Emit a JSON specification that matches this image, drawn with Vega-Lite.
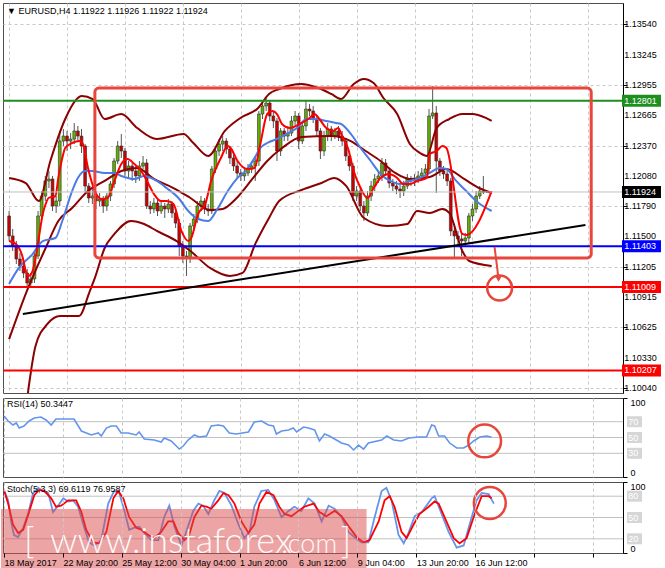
{
"$schema":"https://vega.github.io/schema/vega-lite/v6.json",
"background":"#ffffff",
"padding":{"left":0,"top":2,"right":0,"bottom":0},
"config":{
 "view":{"stroke":"#505050","strokeWidth":1},
 "concat":{"spacing":3},
 "axis":{"labelFont":"Liberation Sans","labelFontSize":9,"labelColor":"#000000","tickColor":"#000000","domainColor":"#000000","gridColor":"#c8c8c8","gridDash":[3,3],"gridWidth":1,"labelOverlap":false},
 "axisY":{"labelOverlap":false},
 "axisQuantitative":{"labelOverlap":false},
 "title":{"font":"Liberation Sans, DejaVu Sans","fontSize":9,"fontWeight":"normal","color":"#000000","anchor":"start","frame":"group"},
 "text":{"font":"Liberation Sans"}
},
"datasets":{
"c":[
{"i":0,"o":1.11693,"h":1.11741,"l":1.11453,"c":1.11501},
{"i":1,"o":1.11501,"h":1.11568,"l":1.11356,"c":1.11404},
{"i":2,"o":1.11404,"h":1.11453,"l":1.11231,"c":1.11279},
{"i":3,"o":1.11279,"h":1.11337,"l":1.11164,"c":1.11212},
{"i":4,"o":1.11212,"h":1.1126,"l":1.11096,"c":1.11144},
{"i":5,"o":1.11144,"h":1.11183,"l":1.11,"c":1.11048},
{"i":6,"o":1.11048,"h":1.11144,"l":1.1102,"c":1.11087},
{"i":7,"o":1.11087,"h":1.11356,"l":1.11048,"c":1.11308},
{"i":8,"o":1.11308,"h":1.11741,"l":1.11279,"c":1.11693},
{"i":9,"o":1.11693,"h":1.11933,"l":1.11645,"c":1.11885},
{"i":10,"o":1.11885,"h":1.12078,"l":1.11837,"c":1.1203},
{"i":11,"o":1.1203,"h":1.12126,"l":1.11962,"c":1.12049},
{"i":12,"o":1.12049,"h":1.12078,"l":1.11741,"c":1.11789},
{"i":13,"o":1.11789,"h":1.11885,"l":1.11722,"c":1.11837},
{"i":14,"o":1.11837,"h":1.12511,"l":1.11789,"c":1.12414},
{"i":15,"o":1.12414,"h":1.1253,"l":1.12366,"c":1.12462},
{"i":16,"o":1.12462,"h":1.12511,"l":1.12318,"c":1.12414},
{"i":17,"o":1.12414,"h":1.12491,"l":1.12337,"c":1.12433},
{"i":18,"o":1.12433,"h":1.12587,"l":1.12385,"c":1.12511},
{"i":19,"o":1.12511,"h":1.12559,"l":1.12414,"c":1.12462},
{"i":20,"o":1.12462,"h":1.1253,"l":1.12299,"c":1.12366},
{"i":21,"o":1.12366,"h":1.12385,"l":1.11904,"c":1.11981},
{"i":22,"o":1.11981,"h":1.1201,"l":1.11818,"c":1.11866},
{"i":23,"o":1.11866,"h":1.11952,"l":1.11808,"c":1.11885},
{"i":24,"o":1.11885,"h":1.11933,"l":1.1176,"c":1.11837},
{"i":25,"o":1.11837,"h":1.11914,"l":1.11789,"c":1.11856},
{"i":26,"o":1.11856,"h":1.11885,"l":1.11722,"c":1.11789},
{"i":27,"o":1.11789,"h":1.11914,"l":1.11741,"c":1.11885},
{"i":28,"o":1.11885,"h":1.1203,"l":1.11837,"c":1.12001},
{"i":29,"o":1.12001,"h":1.12251,"l":1.11962,"c":1.12222},
{"i":30,"o":1.12222,"h":1.12414,"l":1.12193,"c":1.12366},
{"i":31,"o":1.12366,"h":1.12482,"l":1.12251,"c":1.12318},
{"i":32,"o":1.12318,"h":1.12347,"l":1.12078,"c":1.12126},
{"i":33,"o":1.12126,"h":1.12222,"l":1.12058,"c":1.12174},
{"i":34,"o":1.12174,"h":1.12203,"l":1.1203,"c":1.12126},
{"i":35,"o":1.12126,"h":1.12174,"l":1.1201,"c":1.12078},
{"i":36,"o":1.12078,"h":1.12222,"l":1.1203,"c":1.12174},
{"i":37,"o":1.12174,"h":1.1227,"l":1.12145,"c":1.12203},
{"i":38,"o":1.12203,"h":1.12241,"l":1.1176,"c":1.11789},
{"i":39,"o":1.11789,"h":1.11837,"l":1.11712,"c":1.1176},
{"i":40,"o":1.1176,"h":1.11866,"l":1.11722,"c":1.11818},
{"i":41,"o":1.11818,"h":1.11856,"l":1.11693,"c":1.11741},
{"i":42,"o":1.11741,"h":1.11837,"l":1.11712,"c":1.11789},
{"i":43,"o":1.11789,"h":1.11818,"l":1.11674,"c":1.1176},
{"i":44,"o":1.1176,"h":1.11856,"l":1.11722,"c":1.11808},
{"i":45,"o":1.11808,"h":1.11837,"l":1.11674,"c":1.11722},
{"i":46,"o":1.11722,"h":1.1177,"l":1.11577,"c":1.11625},
{"i":47,"o":1.11625,"h":1.11664,"l":1.11308,"c":1.11404},
{"i":48,"o":1.11404,"h":1.11453,"l":1.11241,"c":1.11308},
{"i":49,"o":1.11308,"h":1.11356,"l":1.11116,"c":1.11289},
{"i":50,"o":1.11289,"h":1.11625,"l":1.11241,"c":1.11597},
{"i":51,"o":1.11597,"h":1.11712,"l":1.11549,"c":1.11664},
{"i":52,"o":1.11664,"h":1.11837,"l":1.11625,"c":1.11789},
{"i":53,"o":1.11789,"h":1.11885,"l":1.11741,"c":1.11837},
{"i":54,"o":1.11837,"h":1.11866,"l":1.11712,"c":1.1176},
{"i":55,"o":1.1176,"h":1.11808,"l":1.11693,"c":1.11741},
{"i":56,"o":1.11741,"h":1.12174,"l":1.11712,"c":1.12145},
{"i":57,"o":1.12145,"h":1.12366,"l":1.12106,"c":1.12318},
{"i":58,"o":1.12318,"h":1.12433,"l":1.1227,"c":1.12385},
{"i":59,"o":1.12385,"h":1.12462,"l":1.12318,"c":1.12414},
{"i":60,"o":1.12414,"h":1.12443,"l":1.12289,"c":1.12337},
{"i":61,"o":1.12337,"h":1.12366,"l":1.12193,"c":1.12251},
{"i":62,"o":1.12251,"h":1.12289,"l":1.12126,"c":1.12174},
{"i":63,"o":1.12174,"h":1.12222,"l":1.12058,"c":1.12106},
{"i":64,"o":1.12106,"h":1.12145,"l":1.1203,"c":1.12078},
{"i":65,"o":1.12078,"h":1.12155,"l":1.1203,"c":1.12106},
{"i":66,"o":1.12106,"h":1.12193,"l":1.12078,"c":1.12145},
{"i":67,"o":1.12145,"h":1.12222,"l":1.12106,"c":1.12174},
{"i":68,"o":1.12174,"h":1.1227,"l":1.1203,"c":1.12222},
{"i":69,"o":1.12222,"h":1.12703,"l":1.12174,"c":1.12674},
{"i":70,"o":1.12674,"h":1.12799,"l":1.12626,"c":1.12751},
{"i":71,"o":1.12751,"h":1.12828,"l":1.12703,"c":1.1278},
{"i":72,"o":1.1278,"h":1.12799,"l":1.12607,"c":1.12655},
{"i":73,"o":1.12655,"h":1.12703,"l":1.12539,"c":1.12607},
{"i":74,"o":1.12607,"h":1.12636,"l":1.12222,"c":1.12318},
{"i":75,"o":1.12318,"h":1.12539,"l":1.1227,"c":1.12511},
{"i":76,"o":1.12511,"h":1.12539,"l":1.12414,"c":1.12462},
{"i":77,"o":1.12462,"h":1.12559,"l":1.12414,"c":1.12491},
{"i":78,"o":1.12491,"h":1.12655,"l":1.12462,"c":1.12607},
{"i":79,"o":1.12607,"h":1.12703,"l":1.12559,"c":1.12655},
{"i":80,"o":1.12655,"h":1.12684,"l":1.12337,"c":1.12414},
{"i":81,"o":1.12414,"h":1.12587,"l":1.12385,"c":1.12559},
{"i":82,"o":1.12559,"h":1.12799,"l":1.12511,"c":1.12722},
{"i":83,"o":1.12722,"h":1.1277,"l":1.12655,"c":1.12703},
{"i":84,"o":1.12703,"h":1.12751,"l":1.12587,"c":1.12626},
{"i":85,"o":1.12626,"h":1.12655,"l":1.12462,"c":1.12511},
{"i":86,"o":1.12511,"h":1.12539,"l":1.12241,"c":1.12318},
{"i":87,"o":1.12318,"h":1.12511,"l":1.1227,"c":1.12462},
{"i":88,"o":1.12462,"h":1.12587,"l":1.12414,"c":1.1253},
{"i":89,"o":1.1253,"h":1.12559,"l":1.12414,"c":1.12462},
{"i":90,"o":1.12462,"h":1.12539,"l":1.12433,"c":1.12511},
{"i":91,"o":1.12511,"h":1.12559,"l":1.12414,"c":1.12462},
{"i":92,"o":1.12462,"h":1.12511,"l":1.12366,"c":1.12414},
{"i":93,"o":1.12414,"h":1.12443,"l":1.12222,"c":1.1227},
{"i":94,"o":1.1227,"h":1.12318,"l":1.12126,"c":1.12174},
{"i":95,"o":1.12174,"h":1.12203,"l":1.11837,"c":1.11885},
{"i":96,"o":1.11885,"h":1.11981,"l":1.11837,"c":1.11933},
{"i":97,"o":1.11933,"h":1.11962,"l":1.11741,"c":1.11789},
{"i":98,"o":1.11789,"h":1.11837,"l":1.11645,"c":1.11722},
{"i":99,"o":1.11722,"h":1.11933,"l":1.11693,"c":1.11885},
{"i":100,"o":1.11885,"h":1.1203,"l":1.11837,"c":1.11981},
{"i":101,"o":1.11981,"h":1.12097,"l":1.11933,"c":1.12049},
{"i":102,"o":1.12049,"h":1.12126,"l":1.1201,"c":1.12078},
{"i":103,"o":1.12078,"h":1.12251,"l":1.1203,"c":1.12203},
{"i":104,"o":1.12203,"h":1.12241,"l":1.12078,"c":1.12126},
{"i":105,"o":1.12126,"h":1.12155,"l":1.11962,"c":1.1201},
{"i":106,"o":1.1201,"h":1.12049,"l":1.11933,"c":1.11981},
{"i":107,"o":1.11981,"h":1.1203,"l":1.11904,"c":1.11952},
{"i":108,"o":1.11952,"h":1.12001,"l":1.11866,"c":1.11933},
{"i":109,"o":1.11933,"h":1.1203,"l":1.11885,"c":1.11981},
{"i":110,"o":1.11981,"h":1.12097,"l":1.11952,"c":1.12049},
{"i":111,"o":1.12049,"h":1.12078,"l":1.11981,"c":1.1203},
{"i":112,"o":1.1203,"h":1.12097,"l":1.11981,"c":1.12049},
{"i":113,"o":1.12049,"h":1.12126,"l":1.1201,"c":1.12078},
{"i":114,"o":1.12078,"h":1.12155,"l":1.1203,"c":1.12106},
{"i":115,"o":1.12106,"h":1.12193,"l":1.12058,"c":1.12145},
{"i":116,"o":1.12145,"h":1.12722,"l":1.12106,"c":1.12655},
{"i":117,"o":1.12655,"h":1.12943,"l":1.12626,"c":1.12684},
{"i":118,"o":1.12684,"h":1.12751,"l":1.11914,"c":1.12222},
{"i":119,"o":1.12222,"h":1.12251,"l":1.12078,"c":1.12126},
{"i":120,"o":1.12126,"h":1.12174,"l":1.12049,"c":1.12097},
{"i":121,"o":1.12097,"h":1.12145,"l":1.11981,"c":1.1203},
{"i":122,"o":1.1203,"h":1.12058,"l":1.11501,"c":1.11549},
{"i":123,"o":1.11549,"h":1.11597,"l":1.11289,"c":1.11501},
{"i":124,"o":1.11501,"h":1.11549,"l":1.11404,"c":1.11472},
{"i":125,"o":1.11472,"h":1.1152,"l":1.11308,"c":1.11453},
{"i":126,"o":1.11453,"h":1.11529,"l":1.11404,"c":1.11481},
{"i":127,"o":1.11481,"h":1.11722,"l":1.11433,"c":1.11693},
{"i":128,"o":1.11693,"h":1.11808,"l":1.11645,"c":1.1176},
{"i":129,"o":1.1176,"h":1.11933,"l":1.11722,"c":1.11885},
{"i":130,"o":1.11885,"h":1.11981,"l":1.11856,"c":1.11933},
{"i":131,"o":1.11933,"h":1.12078,"l":1.11904,"c":1.11922},
{"i":132,"o":1.11922,"h":1.11926,"l":1.11922,"c":1.11924}
],
"ln":[
{"s":"u","i":0,"p":1.12059},{"s":"u","i":4.6,"p":1.1201},{"s":"u","i":8.2,"p":1.11837},{"s":"u","i":11.4,"p":1.12222},{"s":"u","i":15.5,"p":1.12626},{"s":"u","i":18.2,"p":1.12799},{"s":"u","i":20.1,"p":1.12847},{"s":"u","i":23.1,"p":1.12818},{"s":"u","i":26.4,"p":1.12626},{"s":"u","i":31,"p":1.12674},{"s":"u","i":35.4,"p":1.12539},{"s":"u","i":40.8,"p":1.12434},{"s":"u","i":48.2,"p":1.12482},{"s":"u","i":50.9,"p":1.12395},{"s":"u","i":55,"p":1.1227},{"s":"u","i":59.6,"p":1.12511},{"s":"u","i":63.9,"p":1.12636},{"s":"u","i":68.8,"p":1.12732},{"s":"u","i":71.8,"p":1.12867},{"s":"u","i":74.6,"p":1.12915},{"s":"u","i":80.8,"p":1.12963},{"s":"u","i":85.4,"p":1.12924},{"s":"u","i":89,"p":1.12867},{"s":"u","i":91.7,"p":1.12818},{"s":"u","i":95.2,"p":1.12963},{"s":"u","i":98,"p":1.13011},{"s":"u","i":100.7,"p":1.12972},{"s":"u","i":103.4,"p":1.12828},{"s":"u","i":107.2,"p":1.12674},{"s":"u","i":110.7,"p":1.12386},{"s":"u","i":113.5,"p":1.12299},{"s":"u","i":115.4,"p":1.1227},{"s":"u","i":118.1,"p":1.12539},{"s":"u","i":121.6,"p":1.12626},{"s":"u","i":125.2,"p":1.12674},{"s":"u","i":127.9,"p":1.12674},{"s":"u","i":131.7,"p":1.12636},{"s":"u","i":133.3,"p":1.12607},
{"s":"m","i":0,"p":1.10509},{"s":"m","i":4.9,"p":1.10971},{"s":"m","i":10.1,"p":1.11385},{"s":"m","i":13.6,"p":1.11645},{"s":"m","i":17.4,"p":1.1177},{"s":"m","i":21.8,"p":1.11933},{"s":"m","i":26.4,"p":1.1203},{"s":"m","i":31,"p":1.12126},{"s":"m","i":35.4,"p":1.12155},{"s":"m","i":40,"p":1.12049},{"s":"m","i":45.4,"p":1.11962},{"s":"m","i":50.1,"p":1.11866},{"s":"m","i":55.5,"p":1.1175},{"s":"m","i":59,"p":1.1176},{"s":"m","i":62.6,"p":1.11856},{"s":"m","i":67.2,"p":1.12049},{"s":"m","i":71.3,"p":1.12222},{"s":"m","i":75.4,"p":1.12347},{"s":"m","i":80.8,"p":1.12453},{"s":"m","i":89,"p":1.12463},{"s":"m","i":94.4,"p":1.12414},{"s":"m","i":98.5,"p":1.12318},{"s":"m","i":102.6,"p":1.12222},{"s":"m","i":106.7,"p":1.12107},{"s":"m","i":110.7,"p":1.12049},{"s":"m","i":116.2,"p":1.12068},{"s":"m","i":120.8,"p":1.12145},{"s":"m","i":125.7,"p":1.12049},{"s":"m","i":129.8,"p":1.11962},{"s":"m","i":133.3,"p":1.11914},
{"s":"l","i":0,"p":1.08922},{"s":"l","i":3.3,"p":1.09432},{"s":"l","i":5.2,"p":1.0999},{"s":"l","i":7.3,"p":1.10442},{"s":"l","i":10.6,"p":1.10654},{"s":"l","i":14.1,"p":1.10731},{"s":"l","i":19.3,"p":1.10731},{"s":"l","i":22.3,"p":1.10971},{"s":"l","i":23.7,"p":1.11097},{"s":"l","i":26.4,"p":1.11385},{"s":"l","i":29.1,"p":1.1152},{"s":"l","i":33.7,"p":1.11645},{"s":"l","i":37.3,"p":1.11616},{"s":"l","i":40.8,"p":1.11549},{"s":"l","i":46.3,"p":1.11452},{"s":"l","i":50.1,"p":1.11356},{"s":"l","i":55.5,"p":1.11193},{"s":"l","i":61,"p":1.11116},{"s":"l","i":64.5,"p":1.11145},{"s":"l","i":68,"p":1.11424},{"s":"l","i":71.8,"p":1.11674},{"s":"l","i":74.6,"p":1.11837},{"s":"l","i":80.8,"p":1.11943},{"s":"l","i":86.3,"p":1.1201},{"s":"l","i":89.8,"p":1.12059},{"s":"l","i":93.1,"p":1.11982},{"s":"l","i":98,"p":1.11674},{"s":"l","i":104.5,"p":1.11597},{"s":"l","i":110,"p":1.11616},{"s":"l","i":112.7,"p":1.11741},{"s":"l","i":116.2,"p":1.11722},{"s":"l","i":119.7,"p":1.1176},{"s":"l","i":121.6,"p":1.11722},{"s":"l","i":125.2,"p":1.11356},{"s":"l","i":127.1,"p":1.1126},{"s":"l","i":133.3,"p":1.11212},
{"s":"fast","i":0,"p":1.11452},{"s":"fast","i":1.9,"p":1.11424},{"s":"fast","i":3.8,"p":1.11289},{"s":"fast","i":4.6,"p":1.11164},{"s":"fast","i":5.4,"p":1.11116},{"s":"fast","i":6.5,"p":1.11164},{"s":"fast","i":7.3,"p":1.11289},{"s":"fast","i":8.2,"p":1.11481},{"s":"fast","i":9.3,"p":1.11712},{"s":"fast","i":10.1,"p":1.11808},{"s":"fast","i":10.9,"p":1.11866},{"s":"fast","i":12.8,"p":1.11885},{"s":"fast","i":13.6,"p":1.12059},{"s":"fast","i":14.7,"p":1.12251},{"s":"fast","i":15.5,"p":1.12347},{"s":"fast","i":17.4,"p":1.12395},{"s":"fast","i":19.6,"p":1.12414},{"s":"fast","i":20.4,"p":1.12386},{"s":"fast","i":21.8,"p":1.12155},{"s":"fast","i":23.7,"p":1.11933},{"s":"fast","i":25.6,"p":1.11856},{"s":"fast","i":27.2,"p":1.11866},{"s":"fast","i":29.1,"p":1.1203},{"s":"fast","i":31,"p":1.12193},{"s":"fast","i":32.7,"p":1.12241},{"s":"fast","i":34.6,"p":1.12193},{"s":"fast","i":36.5,"p":1.12126},{"s":"fast","i":38.1,"p":1.1203},{"s":"fast","i":40,"p":1.11905},{"s":"fast","i":41.9,"p":1.11837},{"s":"fast","i":43.5,"p":1.11837},{"s":"fast","i":45.4,"p":1.11808},{"s":"fast","i":47.6,"p":1.11549},{"s":"fast","i":49.5,"p":1.11452},{"s":"fast","i":50.3,"p":1.11481},{"s":"fast","i":52.2,"p":1.11712},{"s":"fast","i":54.2,"p":1.11808},{"s":"fast","i":55.8,"p":1.1203},{"s":"fast","i":58.5,"p":1.12251},{"s":"fast","i":60.4,"p":1.12366},{"s":"fast","i":61.2,"p":1.12347},{"s":"fast","i":63.1,"p":1.12222},{"s":"fast","i":65.8,"p":1.12145},{"s":"fast","i":67.8,"p":1.12155},{"s":"fast","i":69.4,"p":1.12386},{"s":"fast","i":71.3,"p":1.12674},{"s":"fast","i":72.7,"p":1.12703},{"s":"fast","i":74,"p":1.12674},{"s":"fast","i":75.4,"p":1.12578},{"s":"fast","i":77.6,"p":1.12539},{"s":"fast","i":80.3,"p":1.12578},{"s":"fast","i":83,"p":1.12636},{"s":"fast","i":84.4,"p":1.12674},{"s":"fast","i":85.7,"p":1.12626},{"s":"fast","i":87.6,"p":1.12539},{"s":"fast","i":89.5,"p":1.12511},{"s":"fast","i":90.9,"p":1.12539},{"s":"fast","i":92.2,"p":1.12443},{"s":"fast","i":93.6,"p":1.12347},{"s":"fast","i":95.2,"p":1.12126},{"s":"fast","i":97.1,"p":1.11962},{"s":"fast","i":99,"p":1.11866},{"s":"fast","i":100.7,"p":1.11962},{"s":"fast","i":102.6,"p":1.12059},{"s":"fast","i":104.8,"p":1.12097},{"s":"fast","i":107.2,"p":1.12059},{"s":"fast","i":108.8,"p":1.12001},{"s":"fast","i":110.7,"p":1.12001},{"s":"fast","i":112.7,"p":1.1203},{"s":"fast","i":115.4,"p":1.12059},{"s":"fast","i":116.2,"p":1.1229},{"s":"fast","i":118.1,"p":1.12318},{"s":"fast","i":119.7,"p":1.12366},{"s":"fast","i":120.8,"p":1.12347},{"s":"fast","i":125.2,"p":1.1152},{"s":"fast","i":126.3,"p":1.1151},{"s":"fast","i":133.3,"p":1.11933},
{"s":"slow","i":0,"p":1.11039},{"s":"slow","i":2.7,"p":1.11193},{"s":"slow","i":6.5,"p":1.11327},{"s":"slow","i":9.3,"p":1.11452},{"s":"slow","i":12.8,"p":1.11481},{"s":"slow","i":14.7,"p":1.11645},{"s":"slow","i":17.4,"p":1.11933},{"s":"slow","i":19,"p":1.12059},{"s":"slow","i":21,"p":1.12126},{"s":"slow","i":22.9,"p":1.12126},{"s":"slow","i":26.4,"p":1.12107},{"s":"slow","i":29.1,"p":1.12107},{"s":"slow","i":31,"p":1.12078},{"s":"slow","i":34.6,"p":1.12049},{"s":"slow","i":37.3,"p":1.12078},{"s":"slow","i":40.8,"p":1.1203},{"s":"slow","i":43.5,"p":1.11962},{"s":"slow","i":46.8,"p":1.11866},{"s":"slow","i":49.5,"p":1.11741},{"s":"slow","i":52.2,"p":1.11664},{"s":"slow","i":55,"p":1.11645},{"s":"slow","i":57.7,"p":1.1177},{"s":"slow","i":60.4,"p":1.11933},{"s":"slow","i":63.1,"p":1.12059},{"s":"slow","i":65.8,"p":1.12145},{"s":"slow","i":67.8,"p":1.12251},{"s":"slow","i":69.4,"p":1.12347},{"s":"slow","i":71.3,"p":1.12395},{"s":"slow","i":74,"p":1.12434},{"s":"slow","i":76.7,"p":1.12482},{"s":"slow","i":79.5,"p":1.12539},{"s":"slow","i":82.2,"p":1.12626},{"s":"slow","i":84.9,"p":1.12626},{"s":"slow","i":87.6,"p":1.12607},{"s":"slow","i":90.3,"p":1.12588},{"s":"slow","i":91.7,"p":1.12578},{"s":"slow","i":94.4,"p":1.12482},{"s":"slow","i":97.1,"p":1.12347},{"s":"slow","i":99.9,"p":1.12222},{"s":"slow","i":102.6,"p":1.12097},{"s":"slow","i":105.3,"p":1.1203},{"s":"slow","i":108,"p":1.12001},{"s":"slow","i":110.7,"p":1.1203},{"s":"slow","i":113.5,"p":1.12059},{"s":"slow","i":116.2,"p":1.12107},{"s":"slow","i":118.9,"p":1.12155},{"s":"slow","i":120.8,"p":1.12145},{"s":"slow","i":123.5,"p":1.1203},{"s":"slow","i":126.3,"p":1.11933},{"s":"slow","i":129,"p":1.11837},{"s":"slow","i":131.7,"p":1.1177},{"s":"slow","i":133.3,"p":1.11741}
],
"lv":[{"n":"g","p":1.12801,"t":"1.12801"},{"n":"cur","p":1.11924,"t":"1.11924"},{"n":"b","p":1.11403,"t":"1.11403"},{"n":"r1","p":1.11009,"t":"1.11009"},{"n":"r2","p":1.10207,"t":"1.10207"}],
"ticks":[{"p":1.1354,"t":"1.13540"},{"p":1.13245,"t":"1.13245"},{"p":1.12955,"t":"1.12955"},{"p":1.12665,"t":"1.12665"},{"p":1.1237,"t":"1.12370"},{"p":1.1208,"t":"1.12080"},{"p":1.1179,"t":"1.11790"},{"p":1.115,"t":"1.11500"},{"p":1.11205,"t":"1.11205"},{"p":1.10915,"t":"1.10915"},{"p":1.10625,"t":"1.10625"},{"p":1.1033,"t":"1.10330"},{"p":1.1004,"t":"1.10040"}],
"box":[{"i1":23.7,"i2":160.8,"p1":1.12924,"p2":1.11289}],
"trend":[{"i":3.8,"p":1.1075},{"i":159.2,"p":1.11607}],
"arrow":[{"k":"start","i":134.1,"p":1.11395},{"k":"tip","i":135.2,"p":1.11087}],
"rsi":[
{"i":0,"v":77.2},{"i":1.1,"v":70.9},{"i":2.4,"v":65.8},{"i":3.3,"v":68.4},{"i":4.1,"v":62},{"i":5.4,"v":64.6},{"i":6.8,"v":70.9},{"i":8.2,"v":74.7},{"i":10,"v":75.9},{"i":11.4,"v":72.2},{"i":12.8,"v":65.8},{"i":14.1,"v":73.4},{"i":19,"v":73.4},{"i":21,"v":58.2},{"i":23.7,"v":53.2},{"i":25.6,"v":55.7},{"i":26.4,"v":51.9},{"i":27.8,"v":62},{"i":29.1,"v":64.6},{"i":30.5,"v":64.6},{"i":31.8,"v":55.7},{"i":33.7,"v":55.7},{"i":35.9,"v":53.2},{"i":36.7,"v":57},{"i":38.1,"v":48.1},{"i":40.8,"v":46.8},{"i":42.7,"v":44.3},{"i":43.5,"v":49.4},{"i":45.4,"v":45.6},{"i":46.8,"v":39.2},{"i":47.6,"v":35.4},{"i":48.7,"v":39.2},{"i":50,"v":46.8},{"i":51.7,"v":53.2},{"i":53,"v":50.6},{"i":55,"v":51.9},{"i":56.3,"v":64.6},{"i":58.2,"v":65.8},{"i":59.6,"v":64.6},{"i":61.2,"v":55.7},{"i":63.1,"v":54.4},{"i":66.4,"v":57},{"i":68,"v":69.6},{"i":70,"v":70.9},{"i":71.8,"v":65.8},{"i":73.2,"v":64.6},{"i":74,"v":54.4},{"i":75.4,"v":58.2},{"i":77.3,"v":59.5},{"i":78.6,"v":62},{"i":79.5,"v":57},{"i":81.4,"v":63.3},{"i":82.7,"v":62},{"i":84.4,"v":59.5},{"i":85.7,"v":45.6},{"i":87.1,"v":54.4},{"i":88.4,"v":51.9},{"i":91.7,"v":43},{"i":93.6,"v":40.5},{"i":95,"v":34.2},{"i":96.3,"v":40.5},{"i":97.7,"v":35.4},{"i":99,"v":43},{"i":102.6,"v":46.8},{"i":104,"v":51.9},{"i":105.9,"v":46.8},{"i":108,"v":45.6},{"i":110,"v":49.4},{"i":112.7,"v":50.6},{"i":114.8,"v":50.6},{"i":116.2,"v":65.8},{"i":117,"v":64.6},{"i":118.1,"v":51.9},{"i":119.7,"v":51.9},{"i":121.1,"v":43},{"i":123,"v":36.7},{"i":124.9,"v":36.7},{"i":126.3,"v":40.5},{"i":127.6,"v":45.6},{"i":129.3,"v":50.6},{"i":131.2,"v":51.9},{"i":132.5,"v":50.3}
],
"st":[
{"s":"K","i":0,"v":88.8},{"s":"K","i":1.1,"v":74.1},{"s":"K","i":1.9,"v":44.5},{"s":"K","i":2.7,"v":25.3},{"s":"K","i":3.8,"v":22.4},{"s":"K","i":5.2,"v":35.7},{"s":"K","i":6.5,"v":54.9},{"s":"K","i":7.9,"v":84.4},{"s":"K","i":9.3,"v":91.8},{"s":"K","i":10.6,"v":87.4},{"s":"K","i":12,"v":84.4},{"s":"K","i":13.3,"v":57.8},{"s":"K","i":14.7,"v":66.7},{"s":"K","i":16.1,"v":77},{"s":"K","i":17.4,"v":72.6},{"s":"K","i":18.8,"v":74.1},{"s":"K","i":20.1,"v":65.2},{"s":"K","i":21.8,"v":35.7},{"s":"K","i":23.1,"v":15},{"s":"K","i":24.5,"v":10.6},{"s":"K","i":26.4,"v":18},{"s":"K","i":28.3,"v":69.6},{"s":"K","i":29.9,"v":87.4},{"s":"K","i":31.3,"v":84.4},{"s":"K","i":32.7,"v":59.3},{"s":"K","i":34,"v":32.7},{"s":"K","i":35.4,"v":35.7},{"s":"K","i":36.7,"v":37.1},{"s":"K","i":38.1,"v":28.3},{"s":"K","i":40,"v":18},{"s":"K","i":41.9,"v":18},{"s":"K","i":43.5,"v":50.4},{"s":"K","i":44.9,"v":66.7},{"s":"K","i":46.3,"v":37.1},{"s":"K","i":48.2,"v":10.6},{"s":"K","i":49.5,"v":29.8},{"s":"K","i":51.4,"v":59.3},{"s":"K","i":52.8,"v":69.6},{"s":"K","i":54.1,"v":66.7},{"s":"K","i":55.5,"v":54.9},{"s":"K","i":57.1,"v":74.1},{"s":"K","i":58.5,"v":87.4},{"s":"K","i":59.9,"v":84.4},{"s":"K","i":61.8,"v":66.7},{"s":"K","i":63.7,"v":40.1},{"s":"K","i":65.3,"v":20.9},{"s":"K","i":66.7,"v":29.8},{"s":"K","i":68,"v":65.2},{"s":"K","i":69.9,"v":87.4},{"s":"K","i":71.8,"v":88.9},{"s":"K","i":73.5,"v":74.1},{"s":"K","i":75.4,"v":50.4},{"s":"K","i":77.3,"v":59.3},{"s":"K","i":78.9,"v":65.2},{"s":"K","i":80.8,"v":59.3},{"s":"K","i":82.7,"v":77},{"s":"K","i":84.4,"v":69.6},{"s":"K","i":86.3,"v":44.5},{"s":"K","i":88.2,"v":66.7},{"s":"K","i":89.8,"v":62.3},{"s":"K","i":91.7,"v":50.4},{"s":"K","i":93.6,"v":29.8},{"s":"K","i":95.2,"v":22.4},{"s":"K","i":97.1,"v":15},{"s":"K","i":99,"v":15},{"s":"K","i":100.7,"v":50.4},{"s":"K","i":102.6,"v":87.4},{"s":"K","i":103.9,"v":91.8},{"s":"K","i":105.3,"v":74.1},{"s":"K","i":107.2,"v":25.3},{"s":"K","i":108.6,"v":13.6},{"s":"K","i":109.9,"v":28.3},{"s":"K","i":111.6,"v":51.9},{"s":"K","i":113.5,"v":57.8},{"s":"K","i":114.8,"v":66.7},{"s":"K","i":116.2,"v":77},{"s":"K","i":117,"v":80},{"s":"K","i":118.9,"v":54.9},{"s":"K","i":120.8,"v":29.8},{"s":"K","i":123,"v":7.6},{"s":"K","i":124.9,"v":10.6},{"s":"K","i":126.5,"v":40.1},{"s":"K","i":128.4,"v":74.1},{"s":"K","i":129.8,"v":84.4},{"s":"K","i":131.7,"v":82.9},{"s":"K","i":133.1,"v":69.6},
{"s":"D","i":0,"v":87.4},{"s":"D","i":1.1,"v":69.6},{"s":"D","i":2.4,"v":40.1},{"s":"D","i":3.8,"v":28.3},{"s":"D","i":5.2,"v":32.7},{"s":"D","i":6.8,"v":57.8},{"s":"D","i":8.2,"v":81.5},{"s":"D","i":9.5,"v":88.9},{"s":"D","i":10.9,"v":87.4},{"s":"D","i":12.8,"v":77},{"s":"D","i":14.1,"v":65.2},{"s":"D","i":15.5,"v":66.7},{"s":"D","i":17.4,"v":74.1},{"s":"D","i":19.6,"v":74.1},{"s":"D","i":21,"v":57.8},{"s":"D","i":22.3,"v":32.7},{"s":"D","i":24.2,"v":15},{"s":"D","i":25.9,"v":13.6},{"s":"D","i":27.8,"v":29.8},{"s":"D","i":29.7,"v":77},{"s":"D","i":31,"v":87.4},{"s":"D","i":32.4,"v":77},{"s":"D","i":34,"v":50.4},{"s":"D","i":35.9,"v":35.7},{"s":"D","i":37.3,"v":32.7},{"s":"D","i":39.2,"v":25.3},{"s":"D","i":40.8,"v":20.9},{"s":"D","i":42.7,"v":29.8},{"s":"D","i":44.6,"v":44.5},{"s":"D","i":46,"v":44.5},{"s":"D","i":47.3,"v":28.3},{"s":"D","i":49,"v":18},{"s":"D","i":50.3,"v":25.3},{"s":"D","i":51.7,"v":50.4},{"s":"D","i":53.6,"v":66.7},{"s":"D","i":55,"v":65.2},{"s":"D","i":56.3,"v":62.3},{"s":"D","i":58.2,"v":74.1},{"s":"D","i":59.6,"v":84.4},{"s":"D","i":61,"v":81.5},{"s":"D","i":62.6,"v":69.6},{"s":"D","i":64.5,"v":44.5},{"s":"D","i":66.4,"v":28.3},{"s":"D","i":68,"v":40.1},{"s":"D","i":69.4,"v":69.6},{"s":"D","i":71.3,"v":85.9},{"s":"D","i":73.2,"v":81.5},{"s":"D","i":74.8,"v":65.2},{"s":"D","i":76.2,"v":55},{"s":"D","i":78.1,"v":51.9},{"s":"D","i":80,"v":59.3},{"s":"D","i":81.6,"v":65.2},{"s":"D","i":84.1,"v":69.6},{"s":"D","i":85.7,"v":57.8},{"s":"D","i":87.6,"v":51.9},{"s":"D","i":89.8,"v":59.3},{"s":"D","i":91.7,"v":51.9},{"s":"D","i":93.9,"v":35.7},{"s":"D","i":95.8,"v":22.4},{"s":"D","i":97.7,"v":15},{"s":"D","i":99.3,"v":18},{"s":"D","i":101.8,"v":44.5},{"s":"D","i":103.4,"v":74.1},{"s":"D","i":104.8,"v":80},{"s":"D","i":106.1,"v":65.2},{"s":"D","i":108,"v":29.8},{"s":"D","i":109.4,"v":20.9},{"s":"D","i":111.3,"v":40.1},{"s":"D","i":112.9,"v":54.9},{"s":"D","i":115.4,"v":65.2},{"s":"D","i":117,"v":72.6},{"s":"D","i":118.1,"v":69.6},{"s":"D","i":119.7,"v":50.4},{"s":"D","i":122.2,"v":20.9},{"s":"D","i":123.8,"v":13.6},{"s":"D","i":125.7,"v":20.9},{"s":"D","i":127.9,"v":54.9},{"s":"D","i":129.8,"v":80},{"s":"D","i":131.7,"v":80},{"s":"D","i":132.5,"v":77}
],
"rl":[{"v":30,"t":"30"},{"v":50,"t":"50"},{"v":70,"t":"70"}],
"sl":[{"v":20,"t":"20"},{"v":50,"t":"50"},{"v":80,"t":"80"}],
"wm":[{"i1":-0.84,"i2":98.5,"v1":62,"v2":-25.4}],
"wt":[{"t":"[","i":5.4},{"t":"www.instaforex","i":12.5},{"t":".com","i":75.4},{"t":"]","i":91.4}]
},
"vconcat":[
{
"width":620,"height":390,
"title":{"text":"▼ EURUSD,H4  1.11922 1.11926 1.11922 1.11924","offset":-13,"dx":4},
"layer":[
 {"data":{"name":"c"},"mark":{"type":"rule","color":"#555555","strokeWidth":1,"clip":true},
  "encoding":{
   "x":{"field":"i","type":"quantitative","scale":{"domain":[-0.3,168.2],"nice":false,"zero":false},"axis":{"values":[0,8,16,24,32,40,48,56,64,72,80,88,96,104,112,120,128,136,144,152,160,168],"labels":false,"ticks":false,"domain":false,"grid":true,"title":null}},
   "y":{"field":"l","type":"quantitative","scale":{"domain":[1.0999,1.13742],"nice":false,"zero":false},"axis":{"orient":"right","values":[1.1354,1.13245,1.12955,1.12665,1.1237,1.1208,1.1179,1.115,1.11205,1.10915,1.10625,1.1033,1.1004],"labels":false,"grid":true,"tickSize":4,"title":null}},
   "y2":{"field":"h"}}},
 {"data":{"name":"c"},"mark":{"type":"bar","size":2.8,"stroke":"#2b2b2b","strokeWidth":0.6,"clip":true},
  "encoding":{"x":{"field":"i","type":"quantitative"},"y":{"field":"o","type":"quantitative"},"y2":{"field":"c"},
   "fill":{"condition":{"test":"datum.c >= datum.o","value":"#62b000"},"value":"#cc0000"}}},
 {"data":{"name":"ln"},"transform":[{"filter":"datum.s == 'u' || datum.s == 'm' || datum.s == 'l'"}],"mark":{"type":"line","color":"#8b0000","strokeWidth":2,"interpolate":"monotone","clip":true},
  "encoding":{"x":{"field":"i","type":"quantitative"},"y":{"field":"p","type":"quantitative"},"detail":{"field":"s","type":"nominal"}}},
 {"data":{"name":"ln"},"transform":[{"filter":"datum.s == 'slow'"}],"mark":{"type":"line","color":"#4a7be6","strokeWidth":2,"interpolate":"monotone","clip":true},
  "encoding":{"x":{"field":"i","type":"quantitative"},"y":{"field":"p","type":"quantitative"}}},
 {"data":{"name":"ln"},"transform":[{"filter":"datum.s == 'fast'"}],"mark":{"type":"line","color":"#ff0000","strokeWidth":2,"interpolate":"monotone","clip":true},
  "encoding":{"x":{"field":"i","type":"quantitative"},"y":{"field":"p","type":"quantitative"}}},
 {"data":{"name":"lv"},"transform":[{"filter":"datum.n == 'cur'"}],"mark":{"type":"rule","color":"#c0c0c0","strokeWidth":1},
  "encoding":{"y":{"field":"p","type":"quantitative"}}},
 {"data":{"name":"lv"},"transform":[{"filter":"datum.n == 'g'"}],"mark":{"type":"rule","color":"#1e8f1e","strokeWidth":2},
  "encoding":{"y":{"field":"p","type":"quantitative"}}},
 {"data":{"name":"lv"},"transform":[{"filter":"datum.n == 'b'"}],"mark":{"type":"rule","color":"#0000ff","strokeWidth":2},
  "encoding":{"y":{"field":"p","type":"quantitative"}}},
 {"data":{"name":"lv"},"transform":[{"filter":"datum.n == 'r1' || datum.n == 'r2'"}],"mark":{"type":"rule","color":"#ff0000","strokeWidth":2},
  "encoding":{"y":{"field":"p","type":"quantitative"}}},
 {"data":{"name":"trend"},"mark":{"type":"line","color":"#000000","strokeWidth":2,"clip":true},
  "encoding":{"x":{"field":"i","type":"quantitative"},"y":{"field":"p","type":"quantitative"}}},
 {"data":{"name":"box"},"mark":{"type":"rect","fillOpacity":0,"stroke":"#e8453c","strokeWidth":3,"cornerRadius":4},
  "encoding":{"x":{"field":"i1","type":"quantitative"},"x2":{"field":"i2"},"y":{"field":"p1","type":"quantitative"},"y2":{"field":"p2"}}},
 {"data":{"name":"arrow"},"mark":{"type":"line","color":"#e8453c","strokeWidth":2},
  "encoding":{"x":{"field":"i","type":"quantitative"},"y":{"field":"p","type":"quantitative"}}},
 {"data":{"name":"arrow"},"transform":[{"filter":"datum.k == 'tip'"}],"mark":{"type":"point","shape":"triangle-down","filled":true,"color":"#e8453c","size":40,"opacity":1},
  "encoding":{"x":{"field":"i","type":"quantitative"},"y":{"field":"p","type":"quantitative"}}},
 {"data":{"values":[{"i":135.5,"p":1.11}]},"mark":{"type":"point","shape":"circle","filled":false,"color":"#e8453c","strokeWidth":2.5,"size":616,"opacity":1},
  "encoding":{"x":{"field":"i","type":"quantitative"},"y":{"field":"p","type":"quantitative"}}},
 {"data":{"name":"ticks"},"mark":{"type":"text","align":"left","baseline":"middle","fontSize":9,"color":"#000000","clip":false},
  "encoding":{"x":{"datum":169.9,"type":"quantitative"},"y":{"field":"p","type":"quantitative"},"text":{"field":"t"}}},
 {"data":{"name":"lv"},"mark":{"type":"point","shape":"M0,-0.3077H2V0.3077H0Z","size":1521,"filled":true,"opacity":1,"strokeWidth":0,"clip":false},
  "encoding":{"x":{"datum":169.3,"type":"quantitative"},"y":{"field":"p","type":"quantitative"},"fill":{"field":"n","type":"nominal","scale":{"domain":["g","cur","b","r1","r2"],"range":["#1e8f1e","#000000","#0000ff","#ff0000","#ff0000"]},"legend":null}}},
 {"data":{"name":"lv"},"mark":{"type":"text","align":"left","baseline":"middle","fontSize":9,"color":"#ffffff","clip":false},
  "encoding":{"x":{"datum":169.9,"type":"quantitative"},"y":{"field":"p","type":"quantitative"},"text":{"field":"t"}}}
]
},
{
"width":620,"height":79,
"title":{"text":"RSI(14) 50.3447","offset":-11,"dx":4},
"layer":[
 {"data":{"name":"rl"},"mark":{"type":"rule","color":"#c0c0c0","strokeWidth":1},
  "encoding":{"y":{"field":"v","type":"quantitative","scale":{"domain":[0,100],"nice":false},"axis":{"orient":"right","values":[0,100],"labelFlush":true,"grid":false,"tickSize":4,"labelPadding":3,"title":null}}}},
 {"data":{"name":"rsi"},"mark":{"type":"line","color":"#6495ed","strokeWidth":1.6,"clip":true},
  "encoding":{"x":{"field":"i","type":"quantitative","scale":{"domain":[-0.3,168.2],"nice":false,"zero":false},"axis":{"values":[0,8,16,24,32,40,48,56,64,72,80,88,96,104,112,120,128,136,144,152,160,168],"labels":false,"ticks":false,"domain":false,"grid":true,"title":null}},"y":{"field":"v","type":"quantitative"}}},
 {"data":{"values":[{"i":130.6,"v":45.6}]},"mark":{"type":"point","shape":"circle","filled":false,"color":"#e8453c","strokeWidth":2.5,"size":1075,"opacity":1},
  "encoding":{"x":{"field":"i","type":"quantitative"},"y":{"field":"v","type":"quantitative"}}},
 {"data":{"name":"rl"},"mark":{"type":"point","shape":"M0,-0.733H2V0.733H0Z","size":225,"filled":true,"color":"#d6d6d6","opacity":1,"strokeWidth":0,"clip":false},
  "encoding":{"x":{"datum":169.3,"type":"quantitative"},"y":{"field":"v","type":"quantitative"}}},
 {"data":{"name":"rl"},"mark":{"type":"text","align":"left","baseline":"middle","fontSize":9,"color":"#ffffff","clip":false},
  "encoding":{"x":{"datum":169.6,"type":"quantitative"},"y":{"field":"v","type":"quantitative"},"text":{"field":"t"}}}
]
},
{
"width":620,"height":71,
"title":{"text":"Stoch(5,3,3) 69.6119 76.9587","offset":-12,"dx":4},
"layer":[
 {"data":{"name":"sl"},"mark":{"type":"rule","color":"#c0c0c0","strokeWidth":1},
  "encoding":{"y":{"field":"v","type":"quantitative","scale":{"domain":[0,100],"nice":false},"axis":{"orient":"right","values":[0,100],"labelFlush":true,"grid":false,"tickSize":4,"labelPadding":3,"title":null}}}},
 {"data":{"name":"st"},"transform":[{"filter":"datum.s == 'K'"}],"mark":{"type":"line","color":"#6495ed","strokeWidth":1.8,"clip":true},
  "encoding":{"x":{"field":"i","type":"quantitative","scale":{"domain":[-0.3,168.2],"nice":false,"zero":false},"axis":{"values":[0,8,16,24,32,40,48,56,64,72,80,88,96,104,112,120,128,136,144,152,160,168],"labels":true,"ticks":true,"tickSize":4,"domain":false,"grid":true,"labelAlign":"left","labelPadding":1,"labelOverlap":false,"labelBound":false,"labelFlush":false,"zindex":1,"title":null,"tickOpacity":{"condition":{"test":"datum.value % 16 != 0","value":0},"value":1},"labelExpr":"datum.value == 0 ? '18 May 2017' : datum.value == 16 ? '22 May 20:00' : datum.value == 32 ? '25 May 12:00' : datum.value == 48 ? '30 May 04:00' : datum.value == 64 ? '1 Jun 20:00' : datum.value == 80 ? '6 Jun 12:00' : datum.value == 96 ? '9 Jun 04:00' : datum.value == 112 ? '13 Jun 20:00' : datum.value == 128 ? '16 Jun 12:00' : ''"}},
   "y":{"field":"v","type":"quantitative"}}},
 {"data":{"name":"st"},"transform":[{"filter":"datum.s == 'D'"}],"mark":{"type":"line","color":"#ff0000","strokeWidth":1.8,"clip":true},
  "encoding":{"x":{"field":"i","type":"quantitative"},"y":{"field":"v","type":"quantitative"}}},
 {"data":{"values":[{"i":132,"v":70.4}]},"mark":{"type":"point","shape":"circle","filled":false,"color":"#e8453c","strokeWidth":2.5,"size":1018,"opacity":1},
  "encoding":{"x":{"field":"i","type":"quantitative"},"y":{"field":"v","type":"quantitative"}}},
 {"data":{"name":"sl"},"mark":{"type":"point","shape":"M0,-0.733H2V0.733H0Z","size":225,"filled":true,"color":"#d6d6d6","opacity":1,"strokeWidth":0,"clip":false},
  "encoding":{"x":{"datum":169.3,"type":"quantitative"},"y":{"field":"v","type":"quantitative"}}},
 {"data":{"name":"sl"},"mark":{"type":"text","align":"left","baseline":"middle","fontSize":9,"color":"#ffffff","clip":false},
  "encoding":{"x":{"datum":169.6,"type":"quantitative"},"y":{"field":"v","type":"quantitative"},"text":{"field":"t"}}},
 {"data":{"name":"wm"},"mark":{"type":"rect","color":"#d94a4a","opacity":0.5,"clip":false},
  "encoding":{"x":{"field":"i1","type":"quantitative"},"x2":{"field":"i2"},"y":{"field":"v1","type":"quantitative"},"y2":{"field":"v2"}}},
 {"data":{"name":"wt"},"mark":{"type":"text","align":"left","baseline":"alphabetic","font":"Lato","fontWeight":300,"color":"#ffffff","opacity":0.95,"clip":false},
  "encoding":{"x":{"field":"i","type":"quantitative"},"y":{"datum":0,"type":"quantitative"},"text":{"field":"t"},"size":{"condition":{"test":"datum.t == '.com'","value":27},"value":36}}}
]
}
]
}
